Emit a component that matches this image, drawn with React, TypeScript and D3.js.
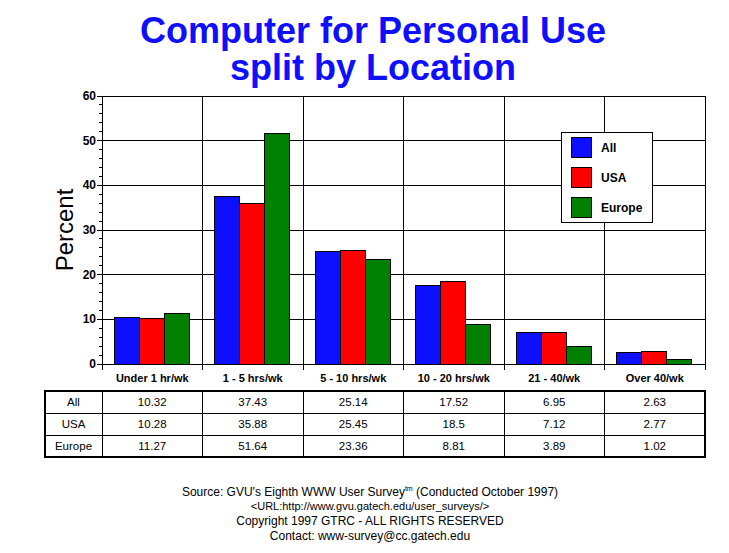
import React from "react";
import * as d3 from "d3";

const categories = ["Under 1 hr/wk", "1 - 5 hrs/wk", "5 - 10 hrs/wk", "10 - 20 hrs/wk", "21 - 40/wk", "Over 40/wk"];
const seriesNames = ["All", "USA", "Europe"];
const allValues = [10.32, 37.43, 25.14, 17.52, 6.95, 2.63];
const usaValues = [10.28, 35.88, 25.45, 18.5, 7.12, 2.77];
const europeValues = [11.27, 51.64, 23.36, 8.81, 3.89, 1.02];
const tableText = [
  ["10.32", "37.43", "25.14", "17.52", "6.95", "2.63"],
  ["10.28", "35.88", "25.45", "18.5", "7.12", "2.77"],
  ["11.27", "51.64", "23.36", "8.81", "3.89", "1.02"],
];
const yTicks = [0, 10, 20, 30, 40, 50, 60];
const yMinorTicks = d3.range(0, 61, 2);
const colors = ["#0f0fff", "#ff0000", "#008000"];
const footer = [
  "<URL:http://www.gvu.gatech.edu/user_surveys/>",
  "Copyright 1997 GTRC - ALL RIGHTS RESERVED",
  "Contact: www-survey@cc.gatech.edu",
];

const FONT = "'Liberation Sans', Arial, sans-serif";

export default function App() {
  const W = 729, H = 553;
  const left = 102, right = 705, top = 96, bottom = 364;
  const x = d3.scaleBand<string>().domain(categories).range([left, right]);
  const y = d3.scaleLinear().domain([0, 60]).range([bottom, top]);
  const inner = d3.scaleBand<string>().domain(seriesNames).range([12, 12 + 75]);
  const series = [allValues, usaValues, europeValues];

  const tLeft = 45, tTop = 391, rowH = 22;

  return (
    <svg width={W} height={H} style={{ position: "absolute", left: 0, top: 0, background: "#fff" }} fontFamily={FONT}>
      <rect x={0} y={0} width={W} height={H} fill="#fff" />
      <text x={373} y={43} textAnchor="middle" fontSize={36} fontWeight="bold" fill="#0f0fff">Computer for Personal Use</text>
      <text x={373} y={80} textAnchor="middle" fontSize={36} fontWeight="bold" fill="#0f0fff">split by Location</text>

      {/* grid lines */}
      {yTicks.filter(t => t > 0).map(t => (
        <line key={"g" + t} x1={left} x2={right} y1={y(t)} y2={y(t)} stroke="#000" strokeWidth={1} shapeRendering="crispEdges" />
      ))}
      {/* category separators */}
      {categories.slice(1).map(c => (
        <line key={"s" + c} x1={x(c)!} x2={x(c)!} y1={top} y2={bottom + 6} stroke="#000" shapeRendering="crispEdges" />
      ))}
      <line x1={right} x2={right} y1={top} y2={bottom + 6} stroke="#000" shapeRendering="crispEdges" />

      {/* bars */}
      {categories.map((c, i) =>
        series.map((s, j) => (
          <rect key={c + j} x={x(c)! + inner(seriesNames[j])!} y={y(s[i])} width={inner.bandwidth()} height={bottom - y(s[i])}
            fill={colors[j]} stroke="#000" strokeWidth={1} shapeRendering="crispEdges" />
        ))
      )}

      {/* axes */}
      <line x1={left} x2={left} y1={top} y2={bottom + 6} stroke="#000" shapeRendering="crispEdges" />
      <line x1={left - 5} x2={right} y1={bottom} y2={bottom} stroke="#000" shapeRendering="crispEdges" />
      {yMinorTicks.map(t => (
        <line key={"m" + t} x1={left - (t % 10 === 0 ? 5 : 3)} x2={left} y1={y(t)} y2={y(t)} stroke="#000" shapeRendering="crispEdges" />
      ))}
      {yTicks.map(t => (
        <text key={"t" + t} x={left - 6} y={y(t) + 4} textAnchor="end" fontSize={12} fontWeight="bold">{t}</text>
      ))}
      <text transform={`translate(73,${(top + bottom) / 2}) rotate(-90)`} textAnchor="middle" fontSize={24}>Percent</text>

      {categories.map(c => (
        <text key={"x" + c} x={x(c)! + x.bandwidth() / 2} y={382} textAnchor="middle" fontSize={11} fontWeight="bold">{c}</text>
      ))}

      {/* legend */}
      <rect x={561} y={132} width={91} height={90} fill="#fff" stroke="#000" shapeRendering="crispEdges" />
      {seriesNames.map((n, j) => (
        <g key={"l" + n}>
          <rect x={571} y={137 + j * 30} width={20} height={20} fill={colors[j]} stroke="#000" shapeRendering="crispEdges" />
          <text x={601} y={152 + j * 30} fontSize={12} fontWeight="bold">{n}</text>
        </g>
      ))}

      {/* table */}
      <rect x={tLeft} y={tTop} width={right - tLeft} height={rowH * 3} fill="none" stroke="#000" strokeWidth={1.5} shapeRendering="crispEdges" />
      {[1, 2].map(r => (
        <line key={"r" + r} x1={tLeft} x2={right} y1={tTop + r * rowH} y2={tTop + r * rowH} stroke="#000" shapeRendering="crispEdges" />
      ))}
      {categories.map(c => (
        <line key={"tc" + c} x1={x(c)!} x2={x(c)!} y1={tTop} y2={tTop + rowH * 3} stroke="#000" shapeRendering="crispEdges" />
      ))}
      {seriesNames.map((n, r) => (
        <g key={"tr" + n}>
          <text x={(tLeft + left) / 2} y={tTop + r * rowH + 15} textAnchor="middle" fontSize={11.5}>{n}</text>
          {categories.map((c, i) => (
            <text key={c} x={x(c)! + x.bandwidth() / 2} y={tTop + r * rowH + 15} textAnchor="middle" fontSize={11.5}>{tableText[r][i]}</text>
          ))}
        </g>
      ))}

      {/* footer */}
      <text x={370} y={496} textAnchor="middle" fontSize={12}>
        Source: GVU's Eighth WWW User Survey<tspan fontSize={7} dy={-5}>tm</tspan><tspan dy={5}> (Conducted October 1997)</tspan>
      </text>
      {footer.map((f, i) => (
        <text key={"f" + i} x={370} y={510 + i * 15} textAnchor="middle" fontSize={i === 0 ? 11 : 12}>{f}</text>
      ))}
    </svg>
  );
}
